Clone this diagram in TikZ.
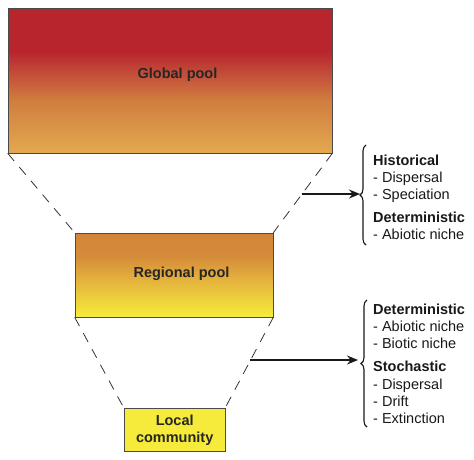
\documentclass[tikz,border=0pt]{standalone}
\usepackage{fontspec}
\setmainfont{Liberation Sans}
\usetikzlibrary{arrows.meta,decorations.pathreplacing,calc}
\definecolor{gb}{HTML}{E3A94F}
\definecolor{gm1}{HTML}{D07E3E}
\definecolor{gm2}{HTML}{C3503A}
\definecolor{gr}{HTML}{B9252D}
\definecolor{rt}{HTML}{D2853A}
\definecolor{rm1}{HTML}{D58C3A}
\definecolor{rm2}{HTML}{E6B83D}
\definecolor{rb}{HTML}{F7EC3A}
\definecolor{lc}{HTML}{F6EB3A}
\definecolor{edge}{HTML}{4A4A4A}
\pgfdeclareverticalshading{globalsh}{100bp}{color(0bp)=(gb); color(25bp)=(gb); color(43bp)=(gm1); color(52bp)=(gm2); color(60bp)=(gr); color(100bp)=(gr)}
\pgfdeclareverticalshading{regionalsh}{100bp}{color(0bp)=(rb); color(25bp)=(rb); color(45bp)=(rm2); color(61bp)=(rm1); color(75bp)=(rt); color(100bp)=(rt)}
\tikzset{
  pool/.style={draw=edge, line width=0.6pt, inner sep=0pt},
  lbl/.style={inner sep=0pt, font=\fontsize{14.5}{17}\selectfont\bfseries, text=black!85, align=center},
  funnel/.style={draw=black!80, line width=0.8pt, dash pattern=on 10pt off 8pt},
  lst/.style={anchor=north west, inner sep=0pt, align=left, font=\fontsize{14.5}{17.3}\selectfont, text=black!90},
  brc/.style={draw=black!90, line width=1.1pt, decorate, decoration={brace, amplitude=6pt}},
  arr/.style={draw=black!90, line width=1.5pt, -{Stealth[length=11pt,width=9pt]}}
}
\begin{document}
\begin{tikzpicture}[x=1pt,y=-1pt]
\path[use as bounding box, fill=white] (0,0) rectangle (474,459);
\node[pool, shading=globalsh, minimum width=324pt, minimum height=145pt] (global) at (170,80.5) {};
\node[lbl] (globallbl) at (177.5,75) {Global pool};
\node[pool, shading=regionalsh, minimum width=198pt, minimum height=84pt] (regional) at (174,275) {};
\node[lbl] (regionallbl) at (181.5,274) {Regional pool};
\node[pool, fill=lc, minimum width=101pt, minimum height=43pt] (local) at (174.5,429.5) {};
\node[lbl] (locallbl) at (174.7,430) {Local\\community};
\draw[funnel] (global.south west) -- (regional.north west);
\draw[funnel] (global.south east) -- (regional.north east);
\draw[funnel] (regional.south west) -- (local.north west);
\draw[funnel] (regional.south east) -- (local.north east);
\node[lst] (t1) at (373,154.5) {\textbf{Historical}\\- Dispersal\\- Speciation\\[5.5pt]\textbf{Deterministic}\\- Abiotic niche};
\node[lst] (t2) at (373,303.5) {\textbf{Deterministic}\\- Abiotic niche\\- Biotic niche\\[5.8pt]\textbf{Stochastic}\\- Dispersal\\- Drift\\- Extinction};
\coordinate (b1t) at (366,145);
\coordinate (b1b) at (366,245);
\coordinate (b2t) at (367,300);
\coordinate (b2b) at (367,427);
\draw[brc] (b1b) -- (b1t);
\draw[brc] (b2b) -- (b2t);
\coordinate (a1s) at (302,194);
\coordinate (a1e) at (360,194);
\coordinate (a2s) at (250,360);
\coordinate (a2e) at (358,360);
\draw[arr] (a1s) -- (a1e);
\draw[arr] (a2s) -- (a2e);
\end{tikzpicture}
\end{document}
